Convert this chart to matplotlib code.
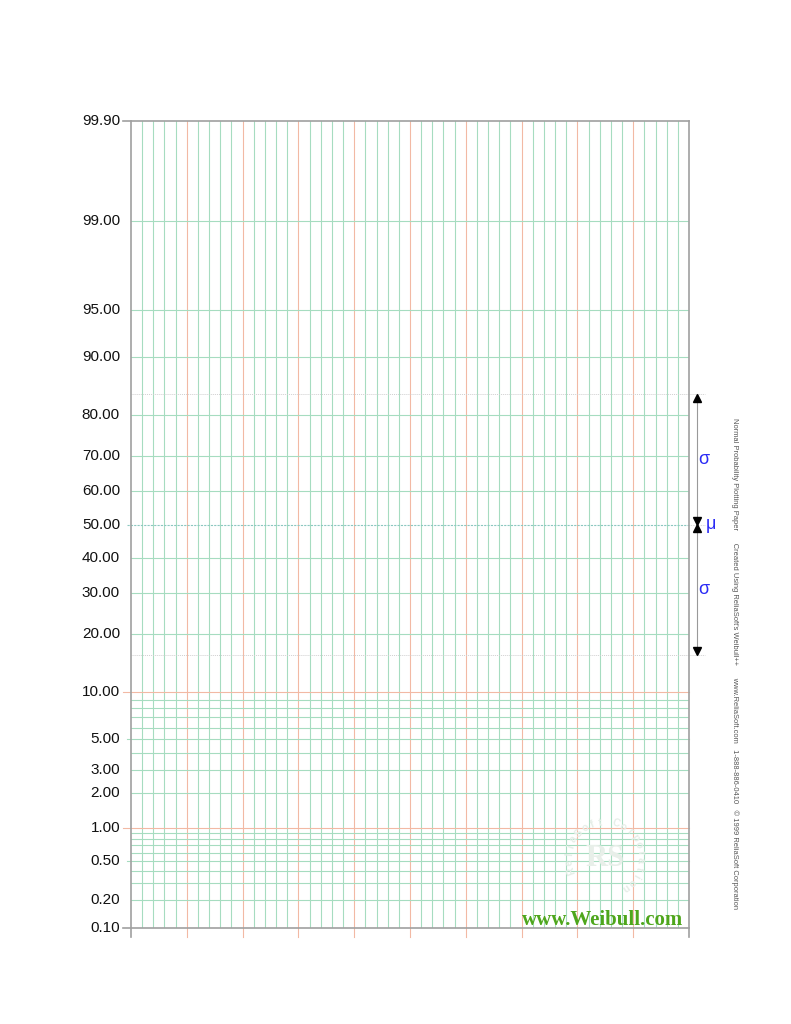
import numpy as np
import matplotlib
matplotlib.use('Agg')
import matplotlib.pyplot as plt
from statistics import NormalDist

plt.rcParams['font.family'] = ['Liberation Sans', 'DejaVu Sans']

# y axis labels (percent)
tick_pcts = [99.9, 99, 95, 90, 80, 70, 60, 50, 40, 30, 20, 10, 5, 3, 2, 1, 0.5, 0.2, 0.1]
tick_labels = ['99.90', '99.00', '95.00', '90.00', '80.00', '70.00', '60.00', '50.00',
               '40.00', '30.00', '20.00', '10.00', '5.00', '3.00', '2.00', '1.00',
               '0.50', '0.20', '0.10']
# horizontal grid lines
green_pcts = [99, 95, 90, 80, 70, 60, 40, 30, 20, 9, 8, 7, 6, 4, 3, 2,
              0.9, 0.8, 0.7, 0.6, 0.4, 0.3, 0.2]
long_green_pcts = [5, 0.5]
orange_pcts = [10, 1]
frame_pcts = [99.9, 0.1]
mean_pct = 50
sigma_pcts = [84.13, 15.87]
# vertical grid
n_cols = 50
major_every = 5

footer = ("Normal Probability Plotting Paper      Created Using ReliaSoft's Weibull++      "
          "www.ReliaSoft.com   1-888-886-0410   \u00a9 1999 ReliaSoft Corporation")

nd = NormalDist()
def z(p):
    return nd.inv_cdf(p / 100.0)

GREEN = '#a6dcc0'
ORANGE = '#f2b9a4'
FRAME = '#a0a0a0'

W, H = 791, 1024
fig = plt.figure(figsize=(W / 100, H / 100), dpi=100)
ax = fig.add_axes([131 / W, (H - 928) / H, 558 / W, 807 / H])
ax.set_xlim(0, n_cols)
ymin, ymax = z(frame_pcts[1]), z(frame_pcts[0])
ax.set_ylim(ymin, ymax)
ax.axis('off')

zpp = (ymax - ymin) / 807.0   # z units per pixel
xpp = n_cols / 558.0          # x units per pixel

# vertical lines
for i in range(n_cols + 1):
    if i == 0 or i == n_cols:
        ax.plot([i, i], [ymin - 9 * zpp, ymax], color=FRAME, lw=1.2, clip_on=False, zorder=3)
    elif i % major_every == 0:
        ax.plot([i, i], [ymin - 9 * zpp, ymax], color=ORANGE, lw=0.8, clip_on=False, zorder=1)
    else:
        ax.plot([i, i], [ymin, ymax], color=GREEN, lw=0.8, zorder=1)

# horizontal lines
for p in green_pcts:
    ax.plot([0, n_cols], [z(p)] * 2, color=GREEN, lw=0.8, zorder=1)
for p in long_green_pcts:
    ax.plot([-4 * xpp, n_cols], [z(p)] * 2, color=GREEN, lw=0.8, clip_on=False, zorder=1)
for p in orange_pcts:
    ax.plot([-8 * xpp, n_cols], [z(p)] * 2, color=ORANGE, lw=0.8, clip_on=False, zorder=2)
for p in frame_pcts:
    ax.plot([-8 * xpp, n_cols], [z(p)] * 2, color=FRAME, lw=1.2, clip_on=False, zorder=3)
ax.plot([-4 * xpp, n_cols], [z(mean_pct)] * 2, color='#8cc8c0', lw=0.8,
        ls=(0, (2, 1)), clip_on=False, zorder=2)
ax.plot([n_cols, n_cols + 16 * xpp], [z(mean_pct)] * 2, color='#cccccc', lw=0.6,
        ls=(0, (1, 1)), clip_on=False)
for p in sigma_pcts:
    ax.plot([0, n_cols + 16 * xpp], [z(p)] * 2, color='#d0d0d0', lw=0.7,
            ls=(0, (1, 1)), clip_on=False, zorder=2)

# y labels
for p, lab in zip(tick_pcts, tick_labels):
    ax.text(-11 * xpp, z(p), lab, ha='right', va='center', fontsize=11, color='#111111')

# sigma / mu marker on the right
xa = n_cols + 8 * xpp
ax.plot([xa, xa], [z(sigma_pcts[1]), z(sigma_pcts[0])], color='#999999', lw=0.8, clip_on=False)
h = 3.8 * zpp
ax.plot([xa], [z(sigma_pcts[0]) - h], marker='^', ms=5.5, color='black', clip_on=False)
ax.plot([xa], [z(mean_pct) + h], marker='v', ms=5.5, color='black', clip_on=False)
ax.plot([xa], [z(mean_pct) - h], marker='^', ms=5.5, color='black', clip_on=False)
ax.plot([xa], [z(sigma_pcts[1]) + h], marker='v', ms=5.5, color='black', clip_on=False)
xs = n_cols + 15 * xpp
ax.text(xs, (z(sigma_pcts[0]) + z(mean_pct)) / 2, '\u03c3', color='#2b2bf5', fontsize=13,
        ha='center', va='center')
ax.text(xs, (z(sigma_pcts[1]) + z(mean_pct)) / 2, '\u03c3', color='#2b2bf5', fontsize=13,
        ha='center', va='center')
ax.text(n_cols + 22 * xpp, z(mean_pct), '\u03bc', color='#2b2bf5', fontsize=13,
        ha='center', va='center')

# faint logo watermark
cx, cy, r = 605 / W, 1 - 858 / H, 36
word = 'ReliaSoft Corporation'
angles = np.linspace(200, -55, len(word))
for ch, a in zip(word, angles):
    xr = cx + r * np.cos(np.radians(a)) / W
    yr = cy + r * np.sin(np.radians(a)) / H
    fig.text(xr, yr, ch, rotation=a - 90, ha='center', va='center', fontsize=7.5,
             fontweight='bold', color='#e6eee8')
fig.text(cx, cy, 'RS', ha='center', va='center', fontsize=22, fontweight='bold',
         color='#e8efe9', family='Liberation Serif')

fig.text(683 / W, 1 - 925 / H, 'www.Weibull.com', ha='right', va='baseline',
         fontsize=15, fontweight='bold', color='#4ea61c', family='Liberation Serif')

fig.text(735 / W, 1 - 663 / H, footer, rotation=270, ha='center', va='center',
         fontsize=5.45, color='#555555')

fig.savefig('out.png', dpi=100)
